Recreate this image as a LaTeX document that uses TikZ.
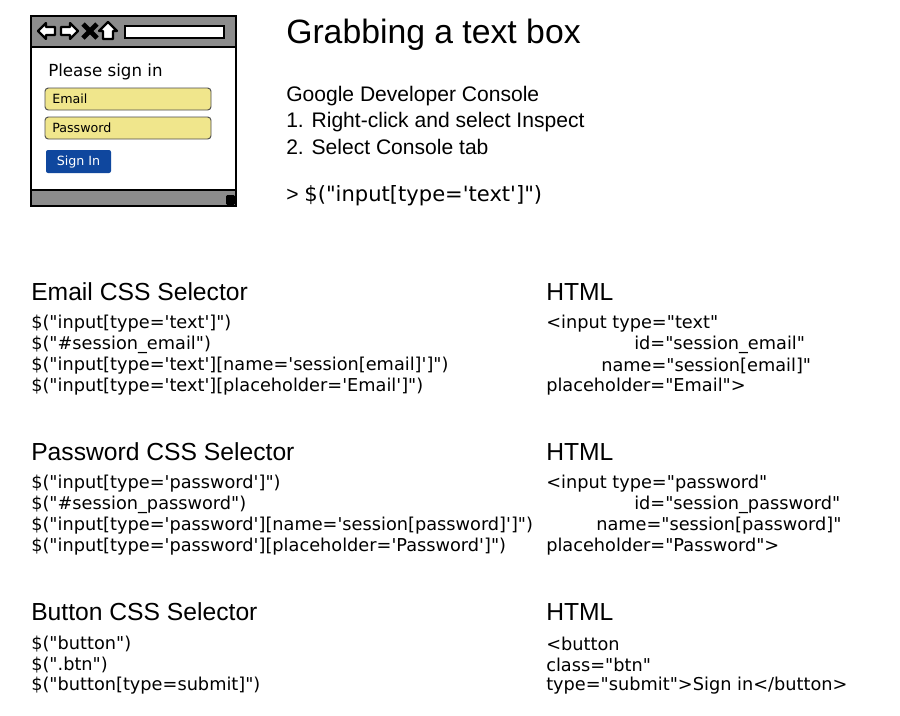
\documentclass[tikz,border=0pt]{standalone}
\usepackage{fontspec}
\setmainfont{Liberation Sans}
\newfontfamily\codefont{DejaVu Sans}
\definecolor{fieldy}{HTML}{F0E68C}
\definecolor{btnblue}{HTML}{0F479E}
\begin{document}
\begin{tikzpicture}[x=0.75pt,y=-0.75pt,
  head/.style={anchor=west,inner sep=0pt,font=\fontsize{18.5}{18}\selectfont},
  code/.style={anchor=west,inner sep=0pt,font=\codefont\fontsize{13.3}{13}\selectfont},
  txt/.style={anchor=west,inner sep=0pt,font=\fontsize{15.8}{16}\selectfont},
  field/.style={draw=black!70,fill=fieldy,rounded corners=2.5pt,line width=0.7pt}]
\useasboundingbox (0,0) rectangle (900,715);
% browser mockup
\fill[white] (31,16) rectangle (236,206);
\fill[gray!90] (31,16) rectangle (236,47);
\fill[gray!90] (31,190) rectangle (236,206);
\draw[line width=2pt] (31,16) rectangle (236,206);
\draw[line width=1.5pt] (31,47) -- (236,47) (31,190) -- (236,190);
\draw[line width=1.5pt,fill=white] (125,26) rectangle (224,38);
\draw[line width=1.6pt,fill=white,line join=round] (38,31) -- (46,23) -- (46,27) -- (55,27) -- (55,35) -- (46,35) -- (46,39) -- cycle;
\draw[line width=1.6pt,fill=white,line join=round] (78,31) -- (70,23) -- (70,27) -- (61,27) -- (61,35) -- (70,35) -- (70,39) -- cycle;
\draw[line width=3.5pt] (83,24) -- (97,38) (97,24) -- (83,38);
\draw[line width=1.6pt,fill=white,line join=round] (108,22) -- (117,31) -- (113,31) -- (113,39) -- (103,39) -- (103,31) -- (99,31) -- cycle;
\fill[rounded corners=1pt] (226,195) rectangle (235,205);
\node[anchor=west,inner sep=0pt,font=\codefont\fontsize{12.5}{12}\selectfont] (ps) at (48,72) {Please sign in};
\draw[field] (45,88) rectangle (211,110);
\node[anchor=west,inner sep=0pt,font=\codefont\fontsize{9.5}{10}\selectfont] (em) at (52,99) {Email};
\draw[field] (45,117) rectangle (211,139);
\node[anchor=west,inner sep=0pt,font=\codefont\fontsize{9.5}{10}\selectfont] (pw) at (52,128) {Password};
\fill[btnblue,rounded corners=1.5pt] (46,150) rectangle (111,173);
\node[inner sep=0pt,text=white,font=\codefont\fontsize{9.5}{10}\selectfont] (si) at (78.5,162) {Sign In};
% top text
\node[anchor=west,inner sep=0pt,font=\fontsize{25.3}{25}\selectfont] (t) at (286,35) {Grabbing a text box};
\node[txt] (g1) at (286,96) {Google Developer Console};
\node[txt] (g2) at (286,122) {1. Right-click and select Inspect};
\node[txt] (g3) at (286,147) {2. Select Console tab};
\node[anchor=west,inner sep=0pt,font=\fontsize{15.8}{16}\selectfont] (g4) at (286,196) {> \codefont\fontsize{15.8}{16}\selectfont\$("input[type='text']")};
% Email
\node[head] (h1) at (31,292) {Email CSS Selector};
\node[head] (h2) at (546,292) {HTML};
\node[code] at (31,324) {\$("input[type='text']")};
\node[code] at (31,345) {\$("\#session\_email")};
\node[code] at (31,366) {\$("input[type='text'][name='session[email]']")};
\node[code] at (31,387) {\$("input[type='text'][placeholder='Email']")};
\node[code] at (546,324) {<input type="text"};
\node[code] at (634,345) {id="session\_email"};
\node[code] at (601,366) {name="session[email]"};
\node[code] at (546,387) {placeholder="Email">};
% Password
\node[head] (h3) at (31,452) {Password CSS Selector};
\node[head] (h4) at (546,452) {HTML};
\node[code] at (31,484) {\$("input[type='password']")};
\node[code] at (31,505) {\$("\#session\_password")};
\node[code] at (31,526) {\$("input[type='password'][name='session[password]']")};
\node[code] at (31,547) {\$("input[type='password'][placeholder='Password']")};
\node[code] at (546,484) {<input type="password"};
\node[code] at (634,505) {id="session\_password"};
\node[code] at (596,526) {name="session[password]"};
\node[code] at (546,547) {placeholder="Password">};
% Button
\node[head] (h5) at (31,612) {Button CSS Selector};
\node[head] (h6) at (546,612) {HTML};
\node[code] at (31,644) {\$("button")};
\node[code] at (31,665) {\$(".btn")};
\node[code] at (31,686) {\$("button[type=submit]")};
\node[code] at (546,644) {<button};
\node[code] at (546,665) {class="btn"};
\node[code] at (546,686) {type="submit">Sign in</button>};
\end{tikzpicture}
\end{document}
